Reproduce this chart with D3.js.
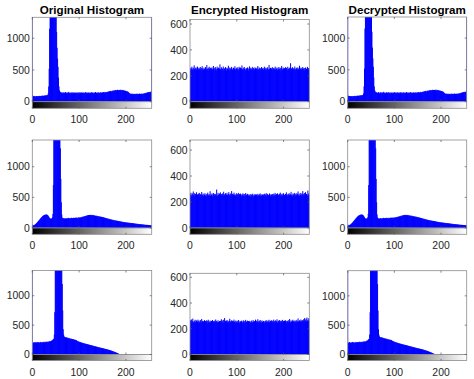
<!DOCTYPE html>
<html><head><meta charset="utf-8">
<script src="https://cdn.jsdelivr.net/npm/d3@7"></script>
<style>body{margin:0;background:#fff}svg{display:block}</style>
</head><body>
<svg id="c" width="474" height="379"></svg>
<script>
// ---------- data (counts per gray level 0..255) ----------
const original1 = [
2600,96,88,84,90,82,86,79,85,88,81,84,90,86,83,92,
88,85,91,87,94,90,96,92,88,97,93,99,95,101,97,104,
99,108,130,240,520,1150,1900,2400,2800,3100,2950,3300,3050,2700,2900,2500,
2650,2300,2100,1400,1100,850,680,550,380,240,180,160,152,141,148,136,
143,131,150,138,127,145,136,152,140,129,147,134,141,155,132,139,
146,128,137,149,135,143,130,151,138,126,144,140,133,148,136,142,
129,147,138,134,152,131,140,145,127,139,150,136,142,133,148,130,
141,137,153,128,144,139,132,149,136,143,130,146,138,134,151,140,
133,147,139,128,145,141,136,152,134,143,138,131,149,140,146,135,
142,137,150,133,145,139,148,136,152,143,140,155,146,150,144,153,
149,158,152,161,155,166,159,170,163,157,172,165,176,168,174,180,
171,178,185,173,181,176,188,179,184,172,186,177,183,190,175,182,
178,186,174,181,170,177,168,173,162,167,158,164,150,156,145,138,
132,126,121,128,117,124,119,127,114,122,118,125,116,121,128,113,
120,126,117,123,115,129,119,124,116,127,121,118,130,122,126,133,
128,136,131,140,137,145,142,150,147,153,145,156,150,158,152,2200];
const original2 = [
60,40,42,45,48,52,57,63,70,78,86,95,104,113,122,131,
140,150,160,168,176,184,192,198,204,208,212,215,218,216,220,218,
214,208,200,188,174,162,155,152,150,152,160,175,230,700,1700,2300,
2800,3200,3500,3400,3600,3300,3000,2800,2600,2400,2000,1700,1300,800,420,220,
170,158,150,162,147,155,160,149,157,152,163,150,158,166,153,160,
155,164,151,159,168,156,162,153,167,158,164,157,170,160,165,172,
161,168,158,173,165,170,176,163,178,171,182,175,186,179,190,184,
195,188,199,192,204,196,208,200,211,203,214,206,210,215,205,212,
207,214,202,209,198,206,200,195,203,192,199,188,196,185,193,182,
190,180,186,176,183,172,179,168,175,165,171,160,167,156,162,152,
158,148,154,144,150,140,146,136,142,132,138,128,134,125,130,121,
127,118,124,115,121,112,118,109,115,106,112,104,109,101,106,98,
103,96,100,93,98,91,95,88,93,86,91,84,89,82,87,80,
85,78,83,76,81,74,79,72,77,70,75,68,73,66,71,64,
69,63,67,61,65,59,64,57,62,56,60,54,59,52,57,50,
55,49,53,48,52,46,51,45,49,44,48,42,47,41,45,40];
const original3 = [
2500,190,205,198,212,201,195,208,203,197,214,206,199,210,204,196,
209,202,215,198,207,211,200,213,205,218,203,209,216,206,212,220,
208,215,222,211,219,226,214,224,231,237,229,243,251,262,268,340,
720,1600,2400,3000,3400,3700,3500,3800,3300,3600,3100,2900,2600,2300,1950,1600,
1200,750,430,340,310,298,293,288,296,284,290,279,286,274,281,270,
276,265,271,260,268,257,263,252,259,248,255,244,250,240,246,236,
230,221,226,215,219,209,214,204,208,198,203,193,197,189,192,184,
188,180,184,176,179,171,175,167,170,163,166,158,162,155,158,150,
154,146,150,142,145,138,141,134,137,129,133,125,128,121,124,117,
120,113,116,109,112,105,108,101,104,97,100,93,96,89,92,85,
88,81,84,77,79,72,74,67,69,62,63,56,57,50,51,44,
45,38,38,31,31,24,23,17,15,10,7,4,2,1,0,0,
0,0,0,0,0,0,0,0,0,0,0,0,0,0,0,0,
0,0,0,0,0,0,0,0,0,0,0,0,0,0,0,0,
0,0,0,0,0,0,0,0,0,0,0,0,0,0,0,0,
0,0,0,0,0,0,0,0,0,0,0,0,0,0,0,0];
const encrypted1 = [
258,247,262,251,270,244,255,263,249,281,252,240,259,266,248,255,
271,243,250,262,257,246,268,253,241,260,274,249,256,245,263,252,
239,267,258,250,283,247,255,261,244,270,256,249,262,238,257,265,
251,246,276,254,243,260,268,249,255,242,271,258,250,263,247,256,
288,252,241,266,259,248,255,272,244,261,253,246,267,257,240,262,
255,249,278,251,243,264,256,247,260,269,252,245,258,263,241,257,
274,250,246,261,253,266,248,255,242,270,259,251,264,246,257,280,
249,253,262,244,268,255,250,243,261,256,247,265,252,241,259,273,
248,255,263,246,257,251,269,244,260,254,247,266,258,242,255,262,
249,275,251,246,264,257,243,259,252,268,247,255,261,244,257,270,
250,248,263,256,241,259,266,251,247,284,255,249,262,245,258,253,
267,242,256,261,248,255,271,246,259,252,264,243,257,250,268,255,
247,262,241,258,276,251,249,265,256,244,259,253,267,248,262,255,
242,270,251,257,246,263,254,297,249,258,243,266,255,250,261,247,
272,253,244,259,256,265,248,262,251,245,278,257,252,263,246,259,
254,268,249,256,261,243,258,264,250,255,247,269,252,260,245,258];
const encrypted2 = [
262,250,271,245,258,266,249,281,254,243,268,257,262,248,275,252,
259,246,264,255,270,243,257,262,251,277,248,256,265,244,259,253,
268,249,256,242,263,258,272,247,255,261,250,283,246,259,254,266,
243,257,269,251,262,248,263,255,247,296,256,244,270,252,259,265,
249,274,256,262,245,258,267,251,279,246,260,254,268,243,257,271,
255,248,262,276,251,259,245,266,257,284,250,263,247,258,272,253,
260,246,255,268,249,263,257,242,270,254,261,248,265,256,244,259,
252,267,247,258,262,241,256,269,250,257,246,263,253,248,260,245,
255,243,261,250,258,246,264,252,240,257,249,262,255,244,259,251,
247,263,254,242,260,251,266,248,256,245,262,253,241,258,250,264,
246,259,252,268,244,257,263,250,255,247,266,253,243,260,256,249,
262,251,245,264,258,249,270,254,246,261,252,267,248,257,243,263,
255,272,247,259,251,264,245,258,268,250,256,242,262,253,274,249,
258,246,263,252,267,255,248,260,278,251,257,244,265,259,250,270,
253,261,247,268,256,249,264,281,252,258,245,266,255,270,248,262,
257,284,250,263,246,269,255,276,251,262,258,245,288,253,266,259];
const encrypted3 = [
251,266,258,272,247,260,279,253,244,262,256,270,249,258,265,246,
257,271,250,263,255,244,268,258,251,276,247,262,254,259,245,267,
253,260,248,266,256,243,262,270,251,257,246,264,255,249,261,252,
268,247,259,254,263,245,257,272,250,261,255,248,266,253,243,260,
256,262,249,274,258,251,265,244,270,257,283,252,262,247,259,268,
250,263,256,245,261,278,253,259,248,266,255,262,244,258,271,252,
259,247,264,255,250,262,246,257,268,253,242,260,256,249,263,251,
247,258,266,252,244,261,255,269,250,257,246,263,254,260,248,256,
262,251,245,258,264,253,249,267,256,243,260,252,271,248,257,263,
250,274,257,246,262,255,268,251,259,247,265,253,249,261,256,244,
258,262,250,267,253,246,259,264,252,270,248,257,262,251,266,255,
263,249,256,271,247,260,254,266,250,258,274,245,259,262,252,268,
255,261,248,264,257,252,269,246,260,255,263,250,266,258,244,261,
259,253,267,250,262,276,254,248,265,257,251,263,270,255,260,249,
264,258,252,269,256,247,262,280,253,260,266,251,258,272,255,263,
268,255,261,274,259,283,250,266,278,257,287,262,270,259,282,265];
// decrypted images are identical to the originals
const decrypted1 = original1;
const decrypted2 = original2;
const decrypted3 = original3;

const titles = ["Original Histogram", "Encrypted Histogram", "Decrypted Histogram"];
const xTicks = [0, 100, 200];
const origTicks = [0, 500, 1000];
const encTicks = [0, 200, 400, 600];
const origMax = [1331, 1436, 1429];
const encMax = [635, 677, 631];

// ---------- layout ----------
const colX = [[32.3, 151.7], [190, 309.3], [347.7, 466.7]];
const rowTop = [[17.3, 19.5, 17], [140, 140, 140], [270.5, 273.3, 270.7]];
const rowBase = [101.7, 228, 354.5];
const rowCb = [108.3, 234.3, 360.5];
const xLabelBase = [122.5, 249, 376];

const svg = d3.select("#c");
const defs = svg.append("defs");
const grad = defs.append("linearGradient").attr("id", "gray").attr("x1", "0").attr("x2", "1").attr("y1", "0").attr("y2", "0");
grad.append("stop").attr("offset", "0").attr("stop-color", "#000");
grad.append("stop").attr("offset", "1").attr("stop-color", "#fff");

const font = "'Liberation Sans', Arial, Helvetica, sans-serif";
const grid = [
  [original1, encrypted1, decrypted1],
  [original2, encrypted2, decrypted2],
  [original3, encrypted3, decrypted3]
];

grid.forEach((row, r) => {
  row.forEach((data, c) => {
    const isEnc = c === 1;
    const ymax = isEnc ? encMax[r] : origMax[r];
    const ticks = isEnc ? encTicks : origTicks;
    const [x0, x1] = colX[c];
    const top = rowTop[r][c], base = rowBase[r], cb = rowCb[r];
    const x = d3.scaleLinear().domain([0, 255]).range([x0, x1]);
    const y = d3.scaleLinear().domain([0, ymax]).range([base, top]);
    const g = svg.append("g");
    const cid = `clip${r}${c}`;
    defs.append("clipPath").attr("id", cid).append("rect")
      .attr("x", x0).attr("y", top).attr("width", x1 - x0).attr("height", base - top);

    g.append("g").attr("clip-path", `url(#${cid})`)
      .selectAll("line").data(data).join("line")
      .attr("x1", (d, i) => x(i)).attr("x2", (d, i) => x(i))
      .attr("y1", y(0)).attr("y2", d => y(Math.min(d, ymax * 1.05)))
      .attr("stroke", "#0000ff").attr("stroke-width", 1);

    // box
    g.append("rect").attr("x", x0).attr("y", top).attr("width", x1 - x0).attr("height", base - top)
      .attr("fill", "none").attr("stroke", "#8c8c8c").attr("stroke-width", 0.8);
    // colorbar
    g.append("rect").attr("x", x0).attr("y", base).attr("width", x1 - x0).attr("height", cb - base)
      .attr("fill", "url(#gray)").attr("stroke", "#8c8c8c").attr("stroke-width", 0.8);

    // x ticks (inward) and labels
    xTicks.forEach(t => {
      g.append("line").attr("x1", x(t)).attr("x2", x(t)).attr("y1", top).attr("y2", top + 2)
        .attr("stroke", "#555").attr("stroke-width", 0.7);
      g.append("line").attr("x1", x(t)).attr("x2", x(t)).attr("y1", base).attr("y2", base - 2)
        .attr("stroke", "#555").attr("stroke-width", 0.7);
      g.append("line").attr("x1", x(t)).attr("x2", x(t)).attr("y1", cb).attr("y2", cb - 1.5)
        .attr("stroke", "#555").attr("stroke-width", 0.7);
      g.append("text").attr("x", x(t)).attr("y", xLabelBase[r]).attr("text-anchor", "middle")
        .attr("font-family", font).attr("font-size", "10.4px").attr("fill", "#262626").text(t);
    });
    // y ticks and labels
    ticks.forEach(t => {
      g.append("line").attr("x1", x0).attr("x2", x0 + 2).attr("y1", y(t)).attr("y2", y(t))
        .attr("stroke", "#555").attr("stroke-width", 0.7);
      g.append("line").attr("x1", x1).attr("x2", x1 - 2).attr("y1", y(t)).attr("y2", y(t))
        .attr("stroke", "#555").attr("stroke-width", 0.7);
      g.append("text").attr("x", x0 - 2.5).attr("y", y(t)).attr("dy", "0.36em").attr("text-anchor", "end")
        .attr("font-family", font).attr("font-size", "10.4px").attr("fill", "#262626").text(t);
    });
    if (r === 0) {
      g.append("text").attr("x", (x0 + x1) / 2).attr("y", 13.5).attr("text-anchor", "middle")
        .attr("font-family", font).attr("font-size", "11.6px").attr("font-weight", "bold")
        .attr("fill", "#000").text(titles[c]);
    }
  });
});
</script>
</body></html>
